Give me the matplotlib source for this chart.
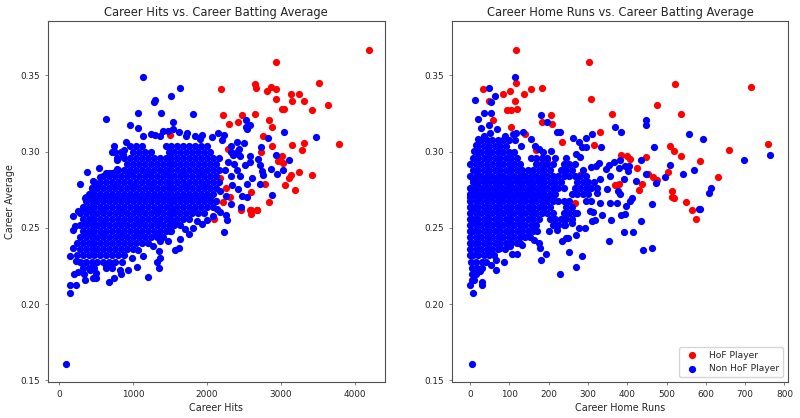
#! /usr/bin/env python3
import matplotlib
matplotlib.use('Agg')
import matplotlib.pyplot as plt

# Hall of Fame players
hof_hits = [4185, 2928, 2649, 2662, 2189, 2815, 2865, 2932, 3518, 3135, 3239, 2932, 3153, 3315, 3009,
            3045, 3419, 3635, 2216, 2468, 2653, 2419, 2302, 2842, 2878, 2752, 2878, 3153, 3315, 3779,
            3279, 3009, 2955, 3022, 2725, 3131, 3414, 3248, 3113, 3059, 3185, 2779, 2590, 2842, 2311,
            2221, 2581, 2671, 2459, 2595, 2676, 2599, 2090, 1500, 2279, 2176, 2120, 2250]
hof_hits_avg = [.367, .3588, .3443, .342, .3412, .340, .3425, .3412, .345, .338, .338, .3344, .333, .333, .328,
                .3278, .3276, .3306, .3243, .3238, .325, .3195, .318, .3207, .3163, .310, .3037, .3043, .306, .305,
                .301, .297, .294, .2926, .300, .285, .285, .2868, .2825, .278, .2747, .279, .2738, .267, .2705,
                .267, .2615, .2615, .2615, .262, .262, .259, .256, .311, .302, .283, .268, .276]

# Hall of Fame players
hof_hr = [116, 302, 521, 715, 32, 102, 83, 136, 155, 184, 116, 114, 47, 307, 93,
          103, 119, 475, 205, 362, 536, 183, 208, 58, 104, 331, 139, 235, 316, 757,
          510, 520, 660, 169, 537, 586, 448, 383, 400, 408, 426, 503, 631, 170, 197,
          280, 453, 465, 475, 378, 369, 438, 431, 513, 513, 520, 549, 564, 574, 268]
hof_hr_avg = [.367, .3588, .3443, .3425, .3412, .340, .338, .338, .3412, .3419, .345, .333, .333, .3344, .3276,
              .3276, .3282, .3306, .3238, .3245, .325, .3195, .318, .3205, .3163, .313, .3113, .3062, .3044, .305,
              .3038, .3007, .3012, .301, .2975, .2936, .2965, .298, .2973, .2955, .2893, .2868, .2832, .2926, .2945,
              .2847, .2855, .2832, .2816, .279, .2783, .2787, .275, .274, .2706, .2695, .2668, .2615, .2561, .2666]

# other players at the edge of the left cloud (hits, average)
other_hits_edge = [
    (90, .1608), (153, .2073), (153, .2127), (234, .2127), (676, .2147), (743, .2173), (1203, .218), (455, .2169),
    (495, .2169), (505, .2206), (347, .2162), (203, .2199), (261, .2212), (338, .2199), (820, .2225), (842, .2199),
    (932, .2223), (1050, .2247), (1356, .224), (1329, .2278), (1369, .2304), (1356, .2347), (1140, .2315),
    (2225, .2476), (2270, .2552), (2005, .2552), (2086, .2576), (2252, .2587), (2176, .2605), (1806, .25),
    (1757, .2461), (1640, .2428), (1622, .2369), (1568, .2358), (1468, .2413), (1703, .249), (1928, .2528),
    (1860, .2544), (153, .2315), (185, .2369), (194, .2489), (194, .2576), (252, .2609), (216, .2511), (230, .2282),
    (306, .2271), (419, .2227), (635, .2249), (734, .2271), (847, .2278), (982, .2304), (1072, .2358), (1275, .238),
    (1365, .2413), (1500, .2478), (1140, .3493), (1640, .3419), (1509, .3364), (1302, .334), (1279, .3326),
    (1063, .3256), (1383, .3256), (1815, .3245), (631, .3214), (1545, .3192), (2523, .3207), (959, .3174),
    (1072, .3157), (2523, .3165), (2586, .3174), (2545, .315), (3036, .3126), (3468, .3094), (2829, .309),
    (2730, .3032), (2928, .2976), (3108, .2943), (2865, .2886), (3022, .288), (2946, .2855), (2883, .2713),
    (2455, .264), (1131, .3105), (1239, .3115), (1297, .311), (1365, .3105), (1410, .3135), (1477, .3135),
    (1536, .3147), (1626, .313), (1734, .3125), (1716, .3105), (1838, .3105), (1928, .3112), (1905, .3085),
    (2063, .3095), (2153, .3125), (2230, .311), (2198, .3075), (2401, .3065), (2324, .3035), (2505, .3055),
    (2437, .302), (901, .3065), (748, .3035), (712, .3), (878, .301), (869, .298), (779, .296), (788, .2945),
    (536, .2895), (374, .2865), (680, .286), (788, .2885), (757, .2865), (554, .2835), (279, .279), (464, .2805),
    (441, .2765), (356, .2695), (2581, .297), (2356, .298), (2423, .2985), (2446, .2975), (2288, .2935),
    (2514, .2915), (2581, .2935), (2694, .2955), (2716, .291), (2739, .2875), (2761, .2845), (2716, .279),
    (2604, .2825), (2536, .279), (2333, .278), (2423, .2755), (2468, .271), (2536, .2705), (2257, .271),
    (2176, .2745), (2328, .2655), (2130, .2625),
]

# solid part of the left cloud: average -> hits
other_hits_cloud = {
    .304: [960, 1040, 1120, 1440, 1520, 1600, 1680, 1760, 1840, 1920, 2000],
    .300: [760, 840, 1000, 1080, 1160, 1240, 1480, 1560, 1640, 1720, 1800, 1880, 1960, 2040, 2320, 2400],
    .296: [880, 960, 1040, 1120, 1200, 1280, 1360, 1440, 1520, 1600, 1680, 1760, 1840, 1920, 2000, 2080, 2160],
    .292: [920, 1000, 1080, 1160, 1240, 1320, 1400, 1480, 1560, 1640, 1720, 1800, 1880, 1960, 2040, 2120, 2360],
    .288: [800, 880, 960, 1040, 1120, 1200, 1280, 1360, 1440, 1520, 1600, 1680, 1760, 1840, 1920, 2000, 2080, 2160, 2240, 2400],
    .286: [640, 720, 960, 1200, 1440, 1680, 1920],
    .284: [600, 680, 760, 840, 920, 1000, 1080, 1160, 1240, 1320, 1400, 1480, 1560, 1640, 1720, 1800, 1880, 1960, 2040, 2120, 2320, 2440],
    .280: [480, 560, 640, 720, 800, 880, 960, 1040, 1120, 1200, 1280, 1360, 1440, 1520, 1600, 1680, 1760, 1840, 1920, 2000, 2080, 2160],
    .278: [520, 760, 1000, 1240, 1480, 1720, 1960],
    .276: [440, 520, 600, 680, 760, 840, 920, 1000, 1080, 1160, 1240, 1320, 1400, 1480, 1560, 1640, 1720, 1800, 1880, 1960, 2040, 2120],
    .272: [400, 480, 560, 640, 720, 800, 880, 960, 1040, 1120, 1200, 1280, 1360, 1440, 1520, 1600, 1680, 1760, 1840, 1920, 2000, 2080],
    .270: [360, 440, 520, 600, 680, 760, 840, 920, 1000, 1080, 1160, 1240, 1320, 1400, 1480, 1560, 1640, 1720, 1800, 1880, 1960, 2040],
    .268: [360, 440, 520, 600, 680, 760, 840, 920, 1000, 1080, 1160, 1240, 1320, 1400, 1480, 1560, 1640, 1720, 1800, 1880, 1960, 2040, 2120],
    .264: [320, 400, 480, 560, 640, 720, 800, 880, 960, 1040, 1120, 1200, 1280, 1360, 1440, 1520, 1600, 1680, 1760, 1840, 1920, 2000, 2080],
    .262: [360, 600, 840, 1080, 1320, 1560, 1800],
    .260: [280, 360, 440, 520, 600, 680, 760, 840, 920, 1000, 1080, 1160, 1240, 1320, 1400, 1480, 1560, 1640, 1720, 1800, 1880, 1960],
    .256: [320, 400, 480, 560, 640, 720, 800, 880, 960, 1040, 1120, 1200, 1280, 1360, 1440, 1520, 1600, 1680, 1760],
    .254: [360, 600, 840, 1080, 1320, 1560],
    .252: [280, 360, 440, 520, 600, 680, 760, 840, 920, 1000, 1080, 1160, 1240, 1320, 1400, 1480, 1560, 1640],
    .248: [320, 400, 480, 560, 640, 720, 800, 880, 960, 1040, 1120, 1200, 1280, 1360, 1440, 1520],
    .246: [360, 600, 840, 1080, 1320],
    .244: [280, 360, 440, 520, 600, 680, 760, 840, 920, 1000, 1080, 1160, 1240, 1320, 1400],
    .240: [240, 320, 400, 480, 560, 640, 720, 800, 880, 960, 1040, 1120, 1200],
    .236: [280, 360, 440, 520, 600, 680, 760, 840, 920, 1000],
    .232: [240, 320, 400, 480, 560, 640, 720, 800, 880],
    .228: [280, 360, 440, 520, 600, 680, 760],
    .224: [320, 400, 480, 640, 720],
}

# other players at the edge of the right cloud (home runs, average)
other_hr_edge = [
    (114, .3493), (47, .3419), (13, .3337), (64, .3364), (52, .3324), (35, .3256), (52, .3256), (20, .3214),
    (181, .3243), (196, .3195), (47, .3174), (135, .313), (29, .3157), (69, .3152), (447, .3207), (448, .3174),
    (369, .3163), (383, .3126), (557, .3119), (592, .3086), (261, .3093), (295, .3089), (309, .3113), (221, .3126),
    (230, .3126), (155, .3086), (277, .3064), (285, .3033), (294, .3033), (332, .3032), (468, .3032), (764, .2976),
    (697, .2943), (434, .2948), (508, .2913), (569, .288), (542, .2855), (495, .2837), (447, .2855), (473, .2796),
    (421, .2811), (612, .2763), (609, .2726), (463, .2655), (584, .2627), (398, .2644), (412, .2699), (408, .2677),
    (376, .2743), (382, .2722), (391, .282), (402, .2875), (378, .289), (382, .2948), (365, .293), (353, .2913),
    (329, .2924), (308, .2897), (357, .2842), (331, .282), (348, .2754), (323, .2726), (331, .2666), (357, .2666),
    (374, .2666), (5, .1608), (8, .2073), (1, .2127), (30, .2127), (30, .2147), (230, .2197), (269, .2247),
    (251, .2341), (286, .2315), (193, .2326), (181, .2291), (87, .2278), (67, .2227), (52, .226), (24, .2221),
    (5, .2162), (11, .2162), (234, .2413), (245, .2435), (249, .2435), (354, .2415), (391, .2476), (415, .2476),
    (441, .2358), (463, .2369), (434, .2544), (395, .2594), (383, .2587), (359, .255), (319, .2552), (310, .2544),
    (292, .25), (270, .2452), (276, .25), (336, .2587), (306, .2611), (314, .2607), (272, .26), (583, .2626),
    (119, .2326), (107, .2326), (132, .2391), (175, .2402), (179, .2369), (162, .2419), (200, .2478), (221, .2489),
    (242, .2522), (259, .2533), (66, .2293), (77, .2369), (102, .238), (18, .2227), (35, .3105), (50, .3125),
    (90, .3105), (108, .3115), (118, .3125), (20, .3085), (15, .3045), (10, .3005), (165, .3035), (175, .3015),
    (205, .3002), (245, .296), (270, .2985), (280, .2965), (320, .2905), (395, .2905), (405, .2905), (345, .2885),
]

# solid part of the right cloud: average -> home runs
other_hr_cloud = {
    .308: [28, 42, 56, 70, 84, 98, 115],
    .304: [21, 35, 49, 63, 77, 91, 130],
    .300: [14, 28, 42, 56, 70, 84, 98, 112, 185],
    .296: [7, 21, 35, 49, 63, 77, 91, 105, 119, 154, 168, 182, 196, 215],
    .292: [0, 14, 28, 42, 56, 70, 84, 98, 112, 126, 168, 182, 196, 210, 238, 252, 266],
    .288: [7, 21, 35, 49, 63, 77, 91, 105, 119, 133, 147, 161, 175, 189, 203, 231, 245, 259, 287],
    .284: [0, 14, 28, 42, 56, 70, 84, 98, 112, 126, 140, 154, 168, 182, 196, 210, 224, 238, 252, 266, 280, 294],
    .282: [7, 35, 63, 91, 119, 147, 175],
    .280: [7, 21, 35, 49, 63, 77, 91, 105, 119, 133, 147, 161, 175, 189, 203, 217, 231, 273, 287, 301, 315],
    .278: [14, 42, 70, 98, 126, 154, 182],
    .276: [0, 14, 28, 42, 56, 70, 84, 98, 112, 126, 140, 154, 168, 182, 196, 210, 224, 238, 266, 280, 294, 308, 322],
    .274: [7, 35, 63, 91, 119, 147, 175],
    .272: [0, 7, 21, 35, 49, 63, 77, 91, 105, 119, 133, 147, 161, 175, 189, 203, 217, 259, 273, 287, 301],
    .270: [0, 14, 28, 42, 56, 70, 84, 98, 112, 126, 140, 154, 168, 182, 196, 210],
    .268: [0, 14, 28, 42, 56, 70, 84, 98, 112, 126, 140, 154, 168, 182, 196, 210, 224, 238, 252, 294, 308],
    .264: [0, 7, 21, 35, 49, 63, 77, 91, 105, 119, 133, 147, 161, 175, 189, 203, 245, 259],
    .262: [14, 42, 70, 98, 126, 154],
    .260: [0, 14, 28, 42, 56, 70, 84, 98, 112, 126, 140, 154, 168, 182, 196, 210, 238, 252, 266],
    .256: [0, 7, 21, 35, 49, 63, 77, 91, 105, 119, 133, 147, 161, 175, 203, 217, 231, 245, 259],
    .254: [14, 42, 70, 98, 126],
    .252: [0, 14, 28, 42, 56, 70, 84, 98, 112, 126, 140, 154, 168, 210, 224, 238],
    .248: [0, 7, 21, 35, 49, 63, 77, 91, 105, 119, 133, 147, 161, 170],
    .244: [0, 14, 28, 42, 56, 70, 84, 98, 112, 126, 140, 152],
    .240: [0, 7, 21, 35, 49, 63, 77, 91, 105, 119, 128],
    .236: [0, 14, 28, 42, 56, 70, 88],
    .232: [1, 7, 21, 35, 49, 60],
    .228: [2, 16, 30, 40],
    .224: [4, 18, 30],
    .220: [4, 14],
}

x_ticks_hits = [0, 1000, 2000, 3000, 4000]
x_ticks_hr = [0, 100, 200, 300, 400, 500, 600, 700, 800]
y_ticks = [0.15, 0.20, 0.25, 0.30, 0.35]


def unpack(edge, cloud):
    xs = [p[0] for p in edge]
    ys = [p[1] for p in edge]
    for avg, row in cloud.items():
        xs += row
        ys += [avg] * len(row)
    return xs, ys


def main():
    plt.rcParams['font.size'] = 6.4
    plt.rcParams['text.color'] = '#262626'
    plt.rcParams['axes.labelcolor'] = '#262626'
    plt.rcParams['xtick.labelcolor'] = '#262626'
    plt.rcParams['ytick.labelcolor'] = '#262626'
    plt.rcParams['axes.linewidth'] = 0.8
    plt.rcParams['axes.edgecolor'] = '#505050'
    plt.rcParams['xtick.color'] = '#505050'
    plt.rcParams['ytick.color'] = '#505050'
    plt.rcParams['xtick.major.width'] = 0.5
    plt.rcParams['ytick.major.width'] = 0.5
    plt.rcParams['xtick.major.size'] = 2.4
    plt.rcParams['ytick.major.size'] = 2.4
    plt.rcParams['xtick.major.pad'] = 3.2
    plt.rcParams['ytick.major.pad'] = 3.2

    fig = plt.figure(figsize=(8, 4.18), dpi=100)
    ax1 = fig.add_axes([47.5 / 800, 36 / 418, 337.5 / 800, 361 / 418])
    ax2 = fig.add_axes([452 / 800, 36 / 418, 336 / 800, 361 / 418])
    size = 27

    x, y = unpack(other_hits_edge, other_hits_cloud)
    ax1.scatter(hof_hits, hof_hits_avg, c='red', s=size, linewidths=0)
    ax1.scatter(x, y, c='blue', s=size, linewidths=0)
    ax1.set_title('Career Hits vs. Career Batting Average', fontsize=8.3, pad=3.5)
    ax1.set_xlabel('Career Hits', fontsize=6.9, labelpad=3)
    ax1.set_ylabel('Career Average', fontsize=6.9, labelpad=3.5)
    ax1.set_xticks(x_ticks_hits)
    ax1.set_yticks(y_ticks)
    ax1.set_xlim(-155, 4405)
    ax1.set_ylim(0.149, 0.3857)

    x, y = unpack(other_hr_edge, other_hr_cloud)
    ax2.scatter(hof_hr, hof_hr_avg, c='red', s=size, linewidths=0, label='HoF Player')
    ax2.scatter(x, y, c='blue', s=size, linewidths=0, label='Non HoF Player')
    ax2.set_title('Career Home Runs vs. Career Batting Average', fontsize=8.3, pad=3.5)
    ax2.set_xlabel('Career Home Runs', fontsize=6.9, labelpad=3)
    ax2.set_xticks(x_ticks_hr)
    ax2.set_yticks(y_ticks)
    ax2.set_xlim(-46, 809)
    ax2.set_ylim(0.149, 0.3857)
    ax2.legend(loc='lower right', fontsize=6.6, borderaxespad=0.55, handletextpad=0.9)

    plt.savefig('out.png', dpi=100)


main()
